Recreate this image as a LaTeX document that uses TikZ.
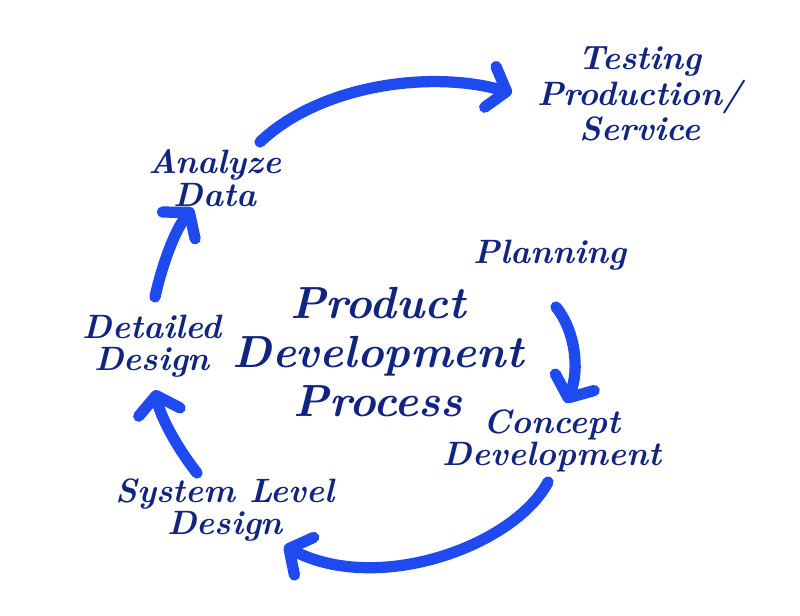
\documentclass[tikz,border=0pt]{standalone}
\usetikzlibrary{arrows.meta}
\definecolor{navy}{RGB}{16,36,128}
\definecolor{arrowblue}{RGB}{30,74,240}
\begin{document}
\begin{tikzpicture}[x=0.025cm, y=-0.025cm,
  lbl/.style={font=\fontsize{24}{23}\selectfont\bfseries\itshape, text=navy, align=center, inner sep=0pt},
  lblwide/.style={font=\fontsize{24}{25}\selectfont\bfseries\itshape, text=navy, align=center, inner sep=0pt},
  ttl/.style={font=\fontsize{32}{35}\selectfont\bfseries\itshape, text=navy, align=center, inner sep=0pt},
  flow/.style={draw=arrowblue, line width=8pt, line cap=round,
    -{Straight Barb[round, length=12pt, width=30pt, line width=8pt]}}]
\useasboundingbox (0,0) rectangle (800,616);
\fill[white] (0,0) rectangle (800,616);
% texts
\node[lblwide] (test) at (640,94) {Testing\\Production/\\Service};
\node[lbl] (anl) at (215,178) {Analyze\\Data};
\node[lbl] (plan) at (550,255) {Planning};
\node[lbl] (det) at (152,346) {Detailed\\Design};
\node[ttl] (title) at (378,352) {Product\\Development\\Process};
\node[lbl] (con) at (552,441) {Concept\\Development};
\node[lbl] (sys) at (225,510) {System Level\\Design};
% connector ends
\coordinate (a1s) at (260,142);
\coordinate (a1e) at (512,93);
\coordinate (a2s) at (556,307);
\coordinate (a2e) at (566,403);
\coordinate (a3s) at (548,482);
\coordinate (a3e) at (284,546);
\coordinate (a4s) at (197,473);
\coordinate (a4e) at (155,390);
\coordinate (a5s) at (155,297);
\coordinate (a5e) at (193,208);
% connectors
\draw[flow] (a1s) .. controls (320,85) and (430,70) .. (a1e);
\draw[flow] (a2s) .. controls (575,330) and (580,370) .. (a2e);
\draw[flow] (a3s) .. controls (515,545) and (380,595) .. (a3e);
\draw[flow] (a4s) .. controls (175,445) and (160,415) .. (a4e);
\draw[flow] (a5s) .. controls (162,265) and (175,230) .. (a5e);
\end{tikzpicture}
\end{document}
